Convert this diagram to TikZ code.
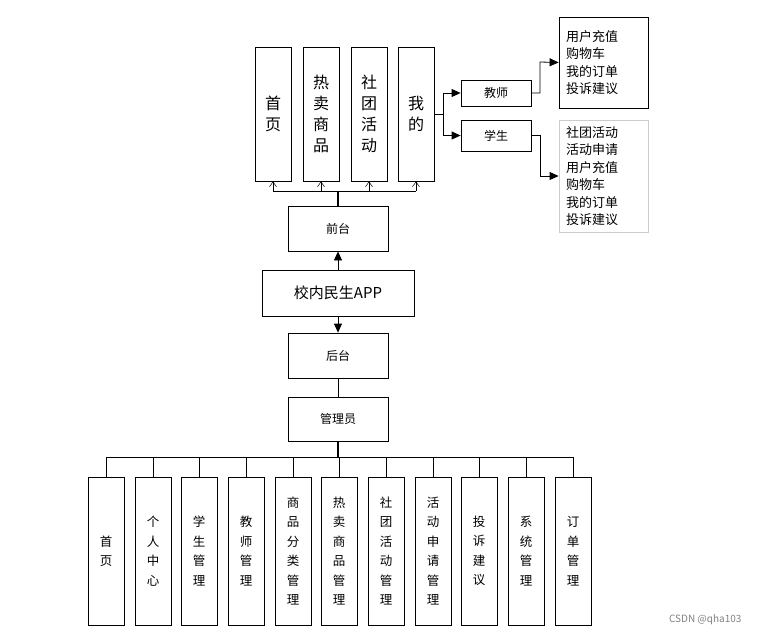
\documentclass[tikz,border=0pt]{standalone}
\usepackage{fontspec}
\setmainfont{Noto Sans CJK SC}
\usetikzlibrary{arrows.meta}
\begin{document}
\begin{tikzpicture}[x=1pt,y=-1pt,
 bx/.style={draw,line width=0.8pt,inner sep=0pt,align=center},
 big/.style={bx,minimum width=36pt,minimum height=134pt,font=\fontsize{16}{21}\selectfont},
 sm/.style={bx,minimum width=36pt,minimum height=148pt,font=\fontsize{12.5}{19.5}\selectfont},
 mid/.style={bx,minimum width=100pt,minimum height=45pt,font=\fontsize{12}{14}\selectfont},
 lst/.style={draw,inner xsep=7pt,inner ysep=0pt,text width=75pt,minimum width=89pt,align=left,font=\fontsize{13}{17.4}\selectfont},
 ln/.style={line width=0.8pt},
 oa/.style={ln,-{Straight Barb[length=5pt,width=7pt,line width=0.5pt]}},
 fa/.style={ln,-{Triangle[length=9pt,width=8pt]}}]
\useasboundingbox (0,0) rectangle (760,635);
\node[big] (t1) at (273,114) {首\\页};
\node[big] (t2) at (321,114) {热\\卖\\商\\品};
\node[big] (t3) at (369,114) {社\\团\\活\\动};
\node[big] (t4) at (416,114) {我\\的};
\node[mid] (qt) at (338,228.5) {前台};
\node[bx,minimum width=152pt,minimum height=46pt,font=\fontsize{15}{18}\selectfont] (app) at (338,293) {校内民生APP};
\node[mid] (ht) at (338,355.5) {后台};
\node[mid,minimum height=44pt] (gl) at (338,419) {管理员};
\node[bx,minimum width=70pt,minimum height=26pt,font=\fontsize{12}{14}\selectfont] (js) at (496,93) {教师};
\node[bx,minimum width=70pt,minimum height=31pt,font=\fontsize{12}{14}\selectfont] (xs) at (496,135.5) {学生};
\node[lst,minimum height=91pt,line width=0.8pt] (l1) at (603.5,62.5) {用户充值\\购物车\\我的订单\\投诉建议};
\node[lst,minimum height=112pt,draw=gray!40,line width=0.8pt] (l2) at (603.5,176) {社团活动\\活动申请\\用户充值\\购物车\\我的订单\\投诉建议};
\foreach \i/\x/\t in {1/106/首\\页,2/153/个\\人\\中\\心,3/199/学\\生\\管\\理,4/246/教\\师\\管\\理,5/293/商\\品\\分\\类\\管\\理,6/339/热\\卖\\商\\品\\管\\理,7/386/社\\团\\活\\动\\管\\理,8/433/活\\动\\申\\请\\管\\理,9/479/投\\诉\\建\\议,10/526/系\\统\\管\\理,11/573/订\\单\\管\\理}
 {\node[sm] (b\i) at (\x,551) {\t};
  \draw[ln] (b\i.north) -- (\x,457);}
\draw[ln] (106,457) -- (573,457);
\draw[line width=1.5pt] (gl.south) -- (338,457);
\draw[ln] (ht) -- (gl);
\draw[fa] (app) -- (qt);
\draw[fa] (app) -- (ht);
\draw[line width=1.5pt] (qt.north) -- (338,191);
\draw[ln] (273,191) -- (416,191);
\foreach \i in {1,...,4} \draw[oa] (t\i.south |- 0,191) -- (t\i.south);
\draw[ln] (t4.east) -- (443,114);
\draw[fa] (443,114) |- (js.west);
\draw[fa] (443,114) |- (xs.west);
\draw[fa] (js.east) -| (540,62) -- (l1.west);
\draw[fa] (xs.east) -| (540,176) -- (l2.west);
\node[font=\fontsize{10}{11}\selectfont,text=gray,anchor=east] (wm) at (745,620) {CSDN @qha103};
\end{tikzpicture}
\end{document}
